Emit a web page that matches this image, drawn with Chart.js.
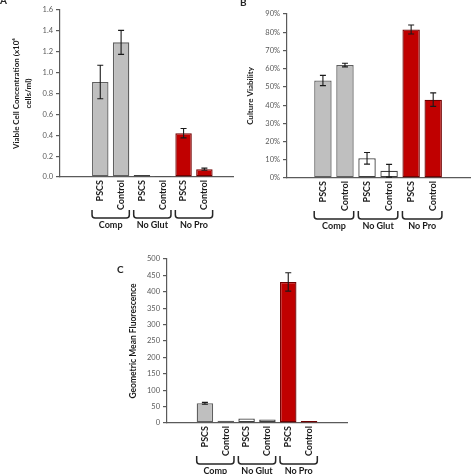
<!DOCTYPE html>
<html>
<head>
<meta charset="utf-8">
<script src="https://cdn.jsdelivr.net/npm/chart.js@4"></script>
<style>
  body { margin: 0; background: #fff; }
  #wrap { position: relative; width: 474px; height: 474px; overflow: hidden; }
  canvas { position: absolute; }
  .tag { position: absolute; font: bold 10px Lato, sans-serif; color: #262626; }
</style>
</head>
<body>
<div id="wrap">
  <canvas id="chartA" width="237" height="240" style="left:0;top:0"></canvas>
  <canvas id="chartB" width="237" height="240" style="left:237px;top:0"></canvas>
  <canvas id="chartC" width="250" height="234" style="left:110px;top:240px"></canvas>
  <div class="tag" style="left:0;top:-6px">A</div>
  <div class="tag" style="left:240px;top:-4px">B</div>
  <div class="tag" style="left:117px;top:263px">C</div>
</div>
<script>
const categories = ['PSCS', 'Control', 'PSCS', 'Control', 'PSCS', 'Control'];
const groups = ['Comp', 'No Glut', 'No Pro'];

// A: viable cell concentration (x10^6 cells/ml)
const cellConc = [0.91, 1.29, 0.02, 0.01, 0.42, 0.075];
const cellConcErr = [0.16, 0.115, 0, 0, 0.045, 0.01];

// B: culture viability (%)
const viability = [53.5, 62, 10.8, 4, 81.5, 43];
const viabilityErr = [2.8, 1, 3.2, 3.5, 2.5, 3.7];

// C: geometric mean fluorescence
const fluorescence = [60, 7, 14, 11, 430, 6];
const fluorescenceErr = [3, 0, 0, 0, 28, 0];

const GREY = '#bfbfbf', WHITE = '#ffffff', RED = '#c00000';
const fills = [GREY, GREY, WHITE, WHITE, RED, RED];
const borders = ['#5f5f5f', '#5f5f5f', '#404040', '#404040', '#700000', '#700000'];
const AXIS = '#5a5a5a';

// draws +/- error whiskers using the chart's own y scale
const errorBars = {
    id: 'errorBars',
    afterDatasetsDraw(chart) {
        const {ctx, scales: {y}} = chart;
        const ds = chart.data.datasets[0];
        const bars = chart.getDatasetMeta(0).data;
        ctx.save();
        ctx.strokeStyle = '#1a1a1a';
        ctx.lineWidth = 1.1;
        bars.forEach((bar, i) => {
            const e = ds.err[i];
            if (!e) return;
            const v = ds.data[i].y;
            const top = y.getPixelForValue(v + e);
            const bot = y.getPixelForValue(v - e);
            ctx.beginPath();
            ctx.moveTo(bar.x, top); ctx.lineTo(bar.x, bot);
            ctx.moveTo(bar.x - 3, top); ctx.lineTo(bar.x + 3, top);
            ctx.moveTo(bar.x - 3, bot); ctx.lineTo(bar.x + 3, bot);
            ctx.stroke();
        });
        ctx.restore();
    }
};

// brackets + group names under each pair of bars
const groupBrackets = {
    id: 'groupBrackets',
    afterDraw(chart) {
        const {ctx, scales: {x}} = chart;
        const bars = chart.getDatasetMeta(0).data;
        const y0 = x.top + 33, y1 = x.top + 41, r = 3;
        ctx.save();
        ctx.strokeStyle = '#262626';
        ctx.lineWidth = 1.5;
        ctx.fillStyle = '#1a1a1a';
        ctx.font = 'bold 9px Lato, sans-serif';
        ctx.textAlign = 'center';
        ctx.textBaseline = 'middle';
        groups.forEach((g, k) => {
            const a = bars[2 * k], b = bars[2 * k + 1];
            const left = a.x - a.width / 2, right = b.x + b.width / 2;
            ctx.beginPath();
            ctx.moveTo(left, y0);
            ctx.arcTo(left, y1, left + r, y1, r);
            ctx.lineTo(right - r, y1);
            ctx.arcTo(right, y1, right, y0, r);
            ctx.lineTo(right, y0);
            ctx.stroke();
            ctx.fillText(g, (left + right) / 2, x.top + 48);
        });
        ctx.restore();
    }
};

function makeChart(id, cfg) {
    return new Chart(document.getElementById(id), {
        type: 'bar',
        data: {
            datasets: [{
                data: cfg.values.map((v, i) => ({x: i, y: v})),
                err: cfg.err,
                backgroundColor: fills,
                borderColor: borders,
                borderWidth: 1.3,
                borderSkipped: false,
                barPercentage: 0.79,
                categoryPercentage: 1
            }]
        },
        options: {
            responsive: false,
            animation: false,
            layout: {padding: cfg.padding},
            plugins: {legend: {display: false}, tooltip: {enabled: false}},
            scales: {
                x: {
                    type: 'linear',
                    min: cfg.xMin,
                    max: cfg.xMax,
                    afterFit: s => { s.height = cfg.xHeight; },
                    grid: {display: false, drawTicks: false},
                    border: {color: AXIS, width: 1.2},
                    ticks: {
                        stepSize: 1, includeBounds: false, autoSkip: false,
                        minRotation: 90, maxRotation: 90, padding: 3,
                        color: '#1a1a1a',
                        font: {family: 'Lato', weight: 'bold', size: 9},
                        callback: v => categories[v] ?? ''
                    }
                },
                y: {
                    min: 0,
                    max: cfg.yMax,
                    afterFit: s => { s.width = cfg.yWidth; },
                    grid: {drawOnChartArea: false, tickLength: 4, color: AXIS, lineWidth: 1.2},
                    border: {color: AXIS, width: 1.2},
                    ticks: {
                        stepSize: cfg.yStep, padding: 3, color: '#595959',
                        font: {family: 'Lato', size: 7.5},
                        callback: cfg.yFormat
                    },
                    title: {
                        display: true, text: cfg.title, color: '#1a1a1a',
                        font: {family: 'Lato', weight: 'bold', size: cfg.titleSize, lineHeight: 1.5},
                        padding: {top: cfg.titlePad, bottom: 0}
                    }
                }
            }
        },
        plugins: [errorBars, groupBrackets]
    });
}

makeChart('chartA', {
    values: cellConc, err: cellConcErr,
    yMax: 1.6, yStep: 0.2, yFormat: v => v.toFixed(1),
    title: ['Viable Cell Concentration (x10\u2076', 'cells/ml)'], titlePad: 10, titleSize: 8,
    xMin: -1.34, xMax: 5.78, xHeight: 63, yWidth: 60,
    padding: {left: 0, top: 10, right: 4, bottom: 0}
});

makeChart('chartB', {
    values: viability, err: viabilityErr,
    yMax: 90, yStep: 10, yFormat: v => v + '%',
    title: 'Culture Viability', titlePad: 7, titleSize: 8,
    xMin: -1.11, xMax: 6.15, xHeight: 62, yWidth: 50,
    padding: {left: 0, top: 14, right: 4, bottom: 0}
});

makeChart('chartC', {
    values: fluorescence, err: fluorescenceErr,
    yMax: 500, yStep: 50, yFormat: v => v,
    title: 'Geometric Mean Fluorescence', titlePad: 17, titleSize: 8.5,
    xMin: -1.28, xMax: 6.28, xHeight: 51, yWidth: 57,
    padding: {left: 0, top: 19, right: 13, bottom: 0}
});
</script>
</body>
</html>
